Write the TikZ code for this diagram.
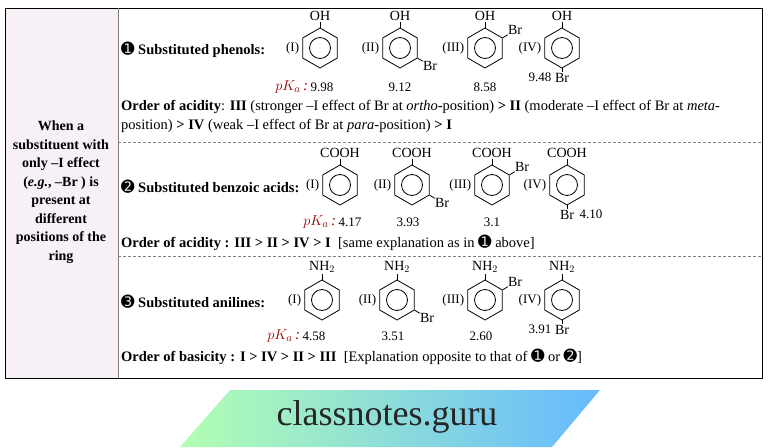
\documentclass[tikz,border=0pt]{standalone}
\usepackage{fontspec}
\setmainfont{Liberation Serif}
\newfontfamily\dingfont{DejaVu Sans}
\usetikzlibrary{shapes.geometric,positioning}
\newcommand{\cn}[1]{{\dingfont\fontsize{16}{16}\selectfont#1}}
\tikzset{
  ring/.style = {regular polygon, regular polygon sides=6, shape border rotate=30,
                 draw, thick, minimum size=40pt, inner sep=0pt},
  grp/.style = {inner sep=1pt, font=\fontsize{14}{14}\selectfont},
  lab/.style = {inner sep=1pt, font=\fontsize{13}{13}\selectfont},
  head/.style = {anchor=west, inner sep=0pt, font=\fontsize{14.5}{16}\selectfont\bfseries},
  order/.style = {anchor=west, inner sep=0pt, font=\fontsize{14.5}{16}\selectfont},
  pk/.style = {inner sep=1pt, text=red!60!black, font=\fontsize{15}{15}\selectfont\itshape}
}
\newcommand{\benz}[2]{%
  \node[ring] (#1) at (#2) {};
  \draw[thick] (#1) circle (10.5pt);
  \draw[thick] (#1.north) -- ++(0,-6) coordinate (#1t);
}
\begin{document}
\begin{tikzpicture}[x=1pt, y=-1pt]
  \useasboundingbox (0,0) rectangle (768,447);
  % frame
  \fill[violet!6] (5,8) rectangle (118,378);
  \draw[thick] (5,8) rectangle (762,378);
  \draw[gray] (118,8) -- (118,378);
  \draw[gray, densely dashed] (118,142) -- (762,142);
  \draw[gray, densely dashed] (118,256) -- (762,256);
  \node[align=center, font=\fontsize{14}{18.5}\selectfont\bfseries] (side) at (61,192)
    {When a\\substituent with\\only --I effect\\(\textit{e.g.}, --Br ) is\\present at\\different\\positions of the\\ring};

  % phenols
  \node[head] (h1) at (121,50) {\cn{➊} Substituted phenols:};
  \foreach \n/\x in {a/320,b/400,c/485,d/562} {\benz{\n}{\x,48}}
  \foreach \n in {a,b,c,d} \node[grp, anchor=south] at (\n t) {OH};
  \node[lab, left=2pt of a] {(I)};
  \node[lab, left=2pt of b] {(II)};
  \node[lab, left=2pt of c] {(III)};
  \node[lab, left=2pt of d] {(IV)};
  \draw[thick] (b.-30) -- ++(5,3) node[grp, anchor=north west, inner sep=0pt] (bbr) {Br};
  \draw[thick] (c.30) -- ++(5,-3) node[grp, anchor=south west, inner sep=0pt] (cbr) {Br};
  \draw[thick] (d.south) -- ++(0,4) node[grp, anchor=north, inner sep=0pt] (dbr) {Br};
  \node[lab] (va) at (322,87) {9.98};
  \node[pk, left=0pt of va] {$pK_a$\,:};
  \node[lab] at (400,87) {9.12};
  \node[lab] at (485,87) {8.58};
  \node[lab, left=2pt of dbr] {9.48};
  \node[order] (o1) at (121,107)
    {\textbf{Order of acidity}: \textbf{III} (stronger --I effect of Br at \textit{ortho}-position) \textbf{>} \textbf{II} (moderate --I effect of Br at \textit{meta}-};
  \node[order] (o1b) at (121,126)
    {position) \textbf{>} \textbf{IV} (weak --I effect of Br at \textit{para}-position) \textbf{>} \textbf{I}};

  % benzoic acids
  \node[head] (h2) at (121,187) {\cn{➋} Substituted benzoic acids:};
  \foreach \n/\x in {e/340,f/412,g/492,h/567} {\benz{\n}{\x,185}}
  \foreach \n in {e,f,g,h} \node[grp, anchor=south] at (\n t) {COOH};
  \node[lab, left=2pt of e] {(I)};
  \node[lab, left=2pt of f] {(II)};
  \node[lab, left=2pt of g] {(III)};
  \node[lab, left=2pt of h] {(IV)};
  \draw[thick] (f.-30) -- ++(5,3) node[grp, anchor=north west, inner sep=0pt] {Br};
  \draw[thick] (g.30) -- ++(5,-3) node[grp, anchor=south west, inner sep=0pt] {Br};
  \draw[thick] (h.south) -- ++(0,4) node[grp, anchor=north, inner sep=0pt] (hbr) {Br};
  \node[lab] (ve) at (350,222) {4.17};
  \node[pk, left=0pt of ve] {$pK_a$\,:};
  \node[lab] at (408,222) {3.93};
  \node[lab] at (492,222) {3.1};
  \node[lab, right=4pt of hbr] {4.10};
  \node[order] (o2) at (121,243)
    {\textbf{Order of acidity : III > II > IV > I} \ [same explanation as in \cn{➊} above]};

  % anilines
  \node[head] (h3) at (121,302) {\cn{➌} Substituted anilines:};
  \foreach \n/\x in {i/322,j/397,k/485,l/562} {\benz{\n}{\x,300}}
  \foreach \n in {i,j,k,l} \node[grp, anchor=south] at (\n t) {NH$_2$};
  \node[lab, left=2pt of i] {(I)};
  \node[lab, left=2pt of j] {(II)};
  \node[lab, left=2pt of k] {(III)};
  \node[lab, left=2pt of l] {(IV)};
  \draw[thick] (j.-30) -- ++(5,3) node[grp, anchor=north west, inner sep=0pt] {Br};
  \draw[thick] (k.30) -- ++(5,-3) node[grp, anchor=south west, inner sep=0pt] {Br};
  \draw[thick] (l.south) -- ++(0,4) node[grp, anchor=north, inner sep=0pt] (lbr) {Br};
  \node[lab] (vi) at (314,336) {4.58};
  \node[pk, left=0pt of vi] {$pK_a$\,:};
  \node[lab] at (393,336) {3.51};
  \node[lab] at (481,336) {2.60};
  \node[lab, left=2pt of lbr] {3.91};
  \node[order] (o3) at (121,357)
    {\textbf{Order of basicity : I > IV > II > III} \ [Explanation opposite to that of \cn{➊} or \cn{➋}]};

  % banner
  \shade[left color=green!30!white, right color=blue!45!cyan!60!white]
    (230,390) -- (600,390) -- (552,447) -- (180,447) -- cycle;
  \node[font=\fontsize{36}{36}\selectfont, text=black!85] (brand) at (387,417) {classnotes.guru};
\end{tikzpicture}
\end{document}
